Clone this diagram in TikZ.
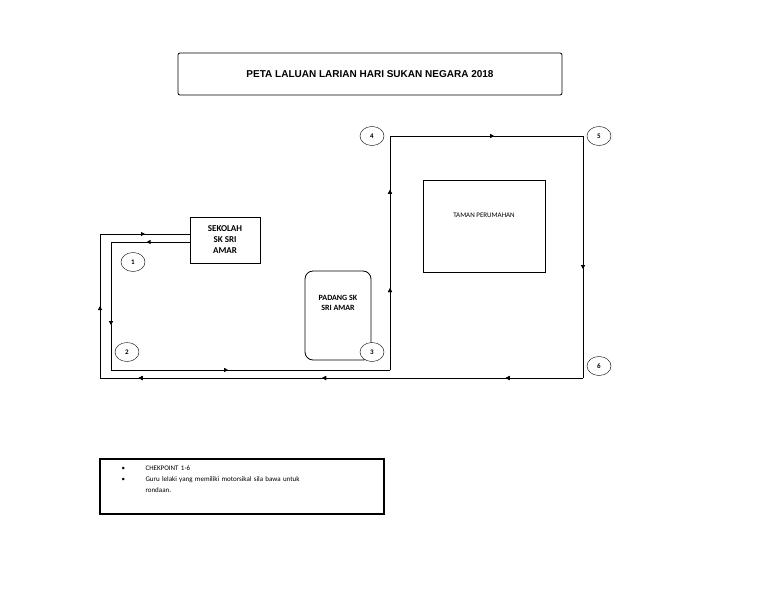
\documentclass[tikz,border=0pt]{standalone}
\usepackage{fontspec}
\setmainfont{Liberation Sans}
\newfontfamily\lato{Carlito}
\usetikzlibrary{decorations.markings,arrows.meta,shapes.geometric}
\begin{document}
\begin{tikzpicture}[x=1pt,y=-1pt,
  route/.style={draw,line width=0.9pt},
  mk/.style={postaction={decorate},decoration={markings,mark=at position #1 with {\arrow{Triangle[length=4pt,width=4pt]}}}},
  cp/.style={draw,ellipse,minimum width=24pt,minimum height=19pt,inner sep=0pt,font=\lato\scriptsize\bfseries},
  box/.style={draw,line width=0.8pt}]
\useasboundingbox (0,0) rectangle (768,594);
\node[box,rounded corners=2pt,minimum width=384pt,minimum height=42pt,font=\bfseries\normalsize] (title) at (370,74) {PETA LALUAN LARIAN HARI SUKAN NEGARA 2018};
\node[box,minimum width=70pt,minimum height=46pt,align=center,font=\lato\small\bfseries,inner sep=1pt] (school) at (225,240) {SEKOLAH\\SK SRI\\AMAR};
\node[box,rounded corners=8pt,minimum width=66pt,minimum height=89pt,align=center,font=\lato\footnotesize\bfseries] (padang) at (338,315.5) {};
\node[font=\lato\footnotesize\bfseries,align=center] (padangt) at (338,303) {PADANG SK\\SRI AMAR};
\node[box,minimum width=122pt,minimum height=92pt] (taman) at (484,226) {};
\node[font=\lato\scriptsize] (tamant) at (484,215) {TAMAN PERUMAHAN};
\coordinate (o1) at (190,234); \coordinate (o0) at (100,234); \coordinate (o2) at (100,378);
\coordinate (o3) at (583,378); \coordinate (o4) at (583,136); \coordinate (o5) at (390,136);
\coordinate (i0) at (190,242); \coordinate (i1) at (111,242); \coordinate (i2) at (111,370); \coordinate (i3) at (390,370);
\draw[route,mk=0.5] (o2) -- (o0);
\draw[route,mk=0.5] (o0) -- (o1);
\draw[route,mk=0.55] (i0) -- (i1);
\draw[route,mk=0.65] (i1) -- (i2);
\draw[route,mk=0.42] (i2) -- (i3);
\draw[route,mk=0.35,mk=0.77] (i3) -- (o5);
\draw[route,mk=0.54] (o5) -- (o4);
\draw[route,mk=0.55] (o4) -- (o3);
\draw[route,mk=0.16,mk=0.54,mk=0.92] (o3) -- (o2);
\node[cp,fill=white] (c1) at (133,262) {1};
\node[cp,fill=white] (c2) at (127,352) {2};
\node[cp,fill=white] (c3) at (372,352) {3};
\node[cp,fill=white] (c4) at (372,136) {4};
\node[cp,fill=white] (c5) at (599,136) {5};
\node[cp,fill=white] (c6) at (599,366) {6};
\node[draw,line width=1.5pt,minimum width=284pt,minimum height=55pt] (legend) at (242,486.5) {};
\node[anchor=north west,font=\lato\scriptsize,align=left,text width=260pt] (lt) at (118,462) {%
\makebox[24pt][l]{\textbullet}CHEKPOINT 1-6\\[3pt]
\makebox[24pt][l]{\textbullet}Guru lelaki yang memiliki motorsikal sila bawa untuk\\[3pt]
\hspace*{24pt}rondaan.};
\end{tikzpicture}
\end{document}
